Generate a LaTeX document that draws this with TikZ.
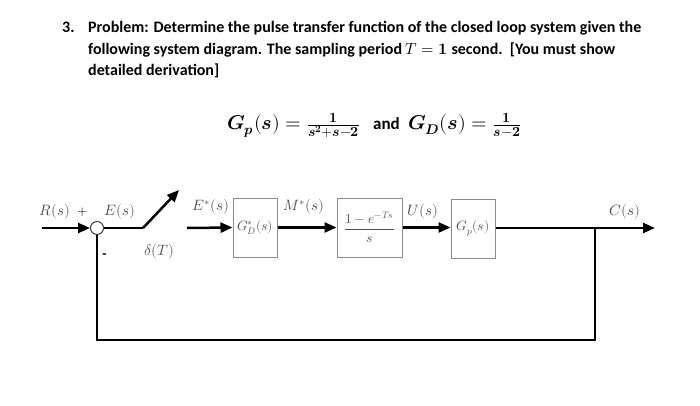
\documentclass[tikz,border=0pt]{standalone}
\usepackage{fontspec}
\usepackage{unicode-math}
\setmainfont{Carlito}
\setmathfont{Latin Modern Math}
\usetikzlibrary{arrows.meta}
\definecolor{lbl}{HTML}{505050}
\definecolor{bx}{HTML}{8A8A8A}
\begin{document}
\begin{tikzpicture}[x=1pt,y=-1pt,
  wire/.style={line width=2.5pt},
  arr/.style={wire,-{Triangle[length=12pt,width=10pt]}},
  blk/.style={draw=bx,line width=1pt,minimum width=#1,minimum height=59pt,inner sep=0pt,text=lbl,font=\fontsize{13.5}{13.5}\selectfont},
  lab/.style={text=lbl,font=\fontsize{15}{15}\selectfont,inner sep=0pt},
  eqs/.style={anchor=base west,inner sep=0pt,font=\fontsize{20}{20}\selectfont},
  ttl/.style={anchor=base west,inner sep=0pt,font=\fontsize{16}{19}\selectfont\bfseries}]
\useasboundingbox (0,0) rectangle (700,406);
% title
\node[ttl] (n3) at (62,33) {3.};
\node[ttl] (l1) at (88,33) {Problem: Determine the pulse transfer function of the closed loop system given the};
\node[ttl] (l2) at (88,54.5) {following system diagram. The sampling period $T=\symbf{1}$ second.\ \ [You must show};
\node[ttl] (l3) at (88,76) {detailed derivation]};
% equation
\node[eqs] (eqa) at (227,130) {$\symbfit{G}_{\symbfit{p}}(\symbfit{s})=\frac{\symbf{1}}{\symbfit{s}^{\symbf{2}}+\symbfit{s}-\symbf{2}}$};
\node[anchor=base west,inner sep=0pt,font=\fontsize{17}{17}\selectfont\bfseries] (eqand) at (373,130) {and};
\node[eqs] (eqb) at (408,130) {$\symbfit{G}_{\symbfit{D}}(\symbfit{s})=\frac{\symbf{1}}{\symbfit{s}-\symbf{2}}$};
% diagram
\node[circle,draw=black!75,line width=1pt,minimum size=13pt,inner sep=0pt,fill=white] (sum) at (97,228) {};
\coordinate (r0) at (42,228);
\coordinate (sw0) at (143,228);
\coordinate (sw1) at (179,190);
\coordinate (e0) at (187,228);
\node[blk=44pt] (b1) at (255,227.5) {$G_D^*(s)$};
\node[blk=65pt] (b2) at (369.5,227.5) {$\displaystyle\frac{1-e^{-Ts}}{s}$};
\node[blk=44pt] (b3) at (473,228.5) {$G_p(s)$};
\coordinate (out) at (655,228);
\coordinate (tap) at (595,228);
\coordinate (c1) at (595,340);
\coordinate (c2) at (97,340);
\draw[arr] (r0) -- (sum.west);
\draw[wire] (sum.east) -- (sw0);
\draw[arr] (sw0) -- (sw1);
\draw[arr] (e0) -- (b1.west);
\draw[arr] (b1.east) -- (b2.west);
\draw[arr] (b2.east) -- (b3.west |- b2.east);
\draw[arr] (b3.east |- out) -- (out);
\draw[wire] (tap) -- (c1) -- (c2) -- (sum.south);
% labels
\node[lab] (lr) at (55,212) {$R(s)$};
\node[inner sep=0pt,font=\fontsize{13}{13}\selectfont] (lplus) at (83,212) {$+$};
\node[lab] (le) at (120,212) {$E(s)$};
\node[inner sep=0pt,font=\fontsize{14}{14}\selectfont\bfseries] (lminus) at (104.5,256) {-};
\node[lab] (ld) at (159,252) {$\delta(T)$};
\node[lab] (les) at (211,207) {$E^*(s)$};
\node[lab] (lm) at (304,207) {$M^*(s)$};
\node[lab] (lu) at (423,212) {$U(s)$};
\node[lab] (lc) at (625,212) {$C(s)$};
\end{tikzpicture}
\end{document}
